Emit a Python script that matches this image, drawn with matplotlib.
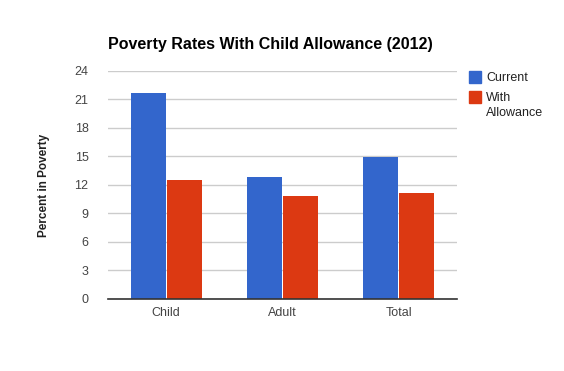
import matplotlib
matplotlib.use("Agg")
import matplotlib.pyplot as plt
from matplotlib.patches import Rectangle
import numpy as np

categories = ["Child", "Adult", "Total"]
current = [21.7, 12.8, 14.9]
with_allowance = [12.5, 10.8, 11.2]
series_names = ["Current", "With\nAllowance"]
yticks = [0, 3, 6, 9, 12, 15, 18, 21, 24]
colors = ["#3366cc", "#dc3912"]

plt.rcParams['font.family'] = ['Liberation Sans', 'DejaVu Sans']

W, H = 564, 371
fig = plt.figure(figsize=(W / 100, H / 100), dpi=100)
ax = fig.add_axes([0.1915, 0.1941, 0.6188, 0.6146])

x = np.arange(len(categories))
w = 0.3
ax.bar(x - w/2 - 0.004, current, w, color=colors[0], label=series_names[0], zorder=3)
ax.bar(x + w/2 + 0.004, with_allowance, w, color=colors[1], label=series_names[1], zorder=3)

ax.set_xlim(-0.5, 2.5)
ax.set_ylim(0, 24)
ax.set_yticks(yticks)
ax.set_yticklabels([str(t) for t in yticks])
ax.set_xticks(x)
ax.set_xticklabels(categories)
ax.yaxis.grid(True, color="#cccccc", linewidth=1, zorder=0)
ax.set_axisbelow(True)
for s in ["left", "right", "top"]:
    ax.spines[s].set_visible(False)
ax.spines["bottom"].set_color("#333333")
ax.spines["bottom"].set_linewidth(1.2)
ax.spines["bottom"].set_zorder(4)
ax.tick_params(axis="both", length=0, labelsize=9, colors="#444444")
ax.tick_params(axis="y", pad=14)
ax.tick_params(axis="x", pad=6)

ax.set_ylabel("Percent in Poverty", fontsize=8.5, fontweight="bold", labelpad=18, color="#222222")
fig.text(108 / W, 1 - 44 / H, "Poverty Rates With Child Allowance (2012)", fontsize=11.5,
         fontweight="bold", ha="left", va="center", color="#000000")

# legend drawn manually
leg_items = [(series_names[0], colors[0], 71), (series_names[1], colors[1], 91)]
for name, col, ytop in leg_items:
    fig.add_artist(Rectangle((469 / W, 1 - (ytop + 12) / H), 12 / W, 12 / H,
                             transform=fig.transFigure, color=col))
    fig.text(486 / W, 1 - (ytop + 1) / H, name, fontsize=9, color="#222222",
             ha="left", va="top", linespacing=1.35)

fig.savefig("out.png", dpi=100)
